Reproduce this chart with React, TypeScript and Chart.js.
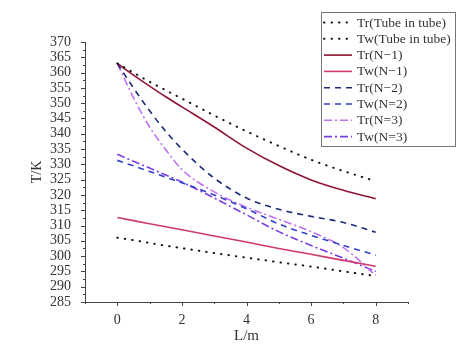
import React, { useEffect, useRef } from "react";
import { Chart, registerables } from "chart.js";

Chart.register(...registerables);

const L = [0, 0.5, 1, 1.5, 2, 3, 4, 5, 6, 7, 8];
const trTube = [363, 360, 357, 354.2, 351.5, 346, 340.8, 336, 331.5, 327.8, 324.5];
const twTube = [306, 305.2, 304.3, 303.4, 302.6, 301, 299.5, 298, 296.6, 295, 293.5];
const trN1 = [363, 359.2, 355.6, 352.1, 348.8, 342.2, 335.3, 329.6, 324.9, 321.5, 318.8];
const twN1 = [312.6, 311.6, 310.6, 309.6, 308.6, 306.6, 304.6, 302.5, 300.6, 298.6, 296.7];
const trN2 = [363, 355, 347.5, 340.8, 335, 325.5, 319, 315.3, 313, 311, 307.8];
const twN2 = [331.3, 329.5, 327.7, 325.8, 324, 320, 315.5, 310.5, 306.8, 303.5, 300.3];
const trN3 = [363, 351.8, 342.2, 334.8, 328.3, 321, 316, 312, 308, 302.8, 293.7];
const twN3 = [333.3, 331, 328.8, 326.5, 324.2, 319, 313.5, 308, 303.5, 299.3, 295];

const seriesLabels = [
  "Tr(Tube in tube)",
  "Tw(Tube in tube)",
  "Tr(N\u22121)",
  "Tw(N\u22121)",
  "Tr(N\u22122)",
  "Tw(N=2)",
  "Tr(N=3)",
  "Tw(N=3)",
];
const xTickLabels = [0, 2, 4, 6, 8];
const yMin = 285;
const yMax = 370;

const FONT = "'Liberation Serif', 'Times New Roman', serif";

const pts = (ys: number[]) => L.map((x, i) => ({ x, y: ys[i] }));

const styles = [
  { color: "#111111", dash: [0.5, 7], width: 2, cap: "round" },
  { color: "#111111", dash: [0.5, 7], width: 2, cap: "round" },
  { color: "#8e1533", dash: [], width: 1.6, cap: "butt" },
  { color: "#d03a6a", dash: [], width: 1.6, cap: "butt" },
  { color: "#1c2a78", dash: [6, 5], width: 1.6, cap: "butt" },
  { color: "#3040c8", dash: [6, 5], width: 1.6, cap: "butt" },
  { color: "#c070f0", dash: [8, 3, 2, 3], width: 1.6, cap: "butt" },
  { color: "#7a3ee0", dash: [8, 3, 2, 3], width: 1.6, cap: "butt" },
];

const allSeries = [trTube, twTube, trN1, twN1, trN2, twN2, trN3, twN3];

const ticksPlugin = {
  id: "customTicks",
  afterDraw(chart: any) {
    const ctx = chart.ctx;
    const xs = chart.scales.x;
    const ys = chart.scales.y;
    const area = chart.chartArea;
    ctx.save();
    ctx.strokeStyle = "#444";
    ctx.lineWidth = 1;
    for (let v = yMin; v <= yMax + 0.01; v += 2.5) {
      const py = Math.round(ys.getPixelForValue(v)) + 0.5;
      const major = Math.abs(v % 5) < 0.01;
      ctx.beginPath();
      ctx.moveTo(area.left, py);
      ctx.lineTo(area.left - (major ? 4 : 2), py);
      ctx.stroke();
    }
    for (let v = -1; v <= 9; v += 1) {
      const px = Math.round(xs.getPixelForValue(v)) + 0.5;
      const major = v % 2 === 0;
      ctx.beginPath();
      ctx.moveTo(px, area.bottom);
      ctx.lineTo(px, area.bottom + (major ? 4 : 2));
      ctx.stroke();
    }
    ctx.restore();
  },
};

const legendPlugin = {
  id: "boxLegend",
  afterDraw(chart: any) {
    const ctx = chart.ctx;
    const left = 321;
    const top = 12;
    const w = 134;
    const h = 134;
    const row = 16.3;
    ctx.save();
    ctx.fillStyle = "#ffffff";
    ctx.fillRect(left, top, w, h);
    ctx.strokeStyle = "#777";
    ctx.lineWidth = 1;
    ctx.strokeRect(left + 0.5, top + 0.5, w, h);
    ctx.font = `13.5px ${FONT}`;
    ctx.textBaseline = "middle";
    chart.data.datasets.forEach((ds: any, i: number) => {
      const y = top + 10.5 + i * row;
      ctx.beginPath();
      ctx.strokeStyle = ds.borderColor;
      ctx.lineWidth = ds.borderWidth;
      ctx.lineCap = ds.borderCapStyle;
      ctx.setLineDash(ds.borderDash);
      ctx.moveTo(left + 3, y);
      ctx.lineTo(left + 31, y);
      ctx.stroke();
      ctx.setLineDash([]);
      ctx.lineCap = "butt";
      ctx.fillStyle = "#333";
      ctx.fillText(ds.label, left + 36, y + 0.5);
    });
    ctx.restore();
  },
};

export default function App() {
  const ref = useRef<HTMLCanvasElement | null>(null);
  useEffect(() => {
    if (!ref.current) return;
    const chart = new Chart(ref.current, {
      type: "line",
      data: {
        datasets: allSeries.map((s, i) => ({
          label: seriesLabels[i],
          data: pts(s),
          borderColor: styles[i].color,
          backgroundColor: styles[i].color,
          borderDash: styles[i].dash,
          borderWidth: styles[i].width,
          borderCapStyle: styles[i].cap as any,
          pointRadius: 0,
          fill: false,
          cubicInterpolationMode: "monotone" as const,
        })),
      },
      options: {
        responsive: false,
        animation: false,
        layout: { padding: { top: 42, right: 66, left: 0, bottom: 0 } },
        plugins: { legend: { display: false }, tooltip: { enabled: false } },
        scales: {
          x: {
            type: "linear",
            min: -1,
            max: 9,
            afterFit: (s: any) => {
              s.height = 60;
            },
            afterBuildTicks: (s: any) => {
              s.ticks = xTickLabels.map((v) => ({ value: v }));
            },
            grid: { display: false },
            border: { display: true, color: "#444", width: 1 },
            ticks: {
              color: "#333",
              font: { family: FONT, size: 14 },
              padding: 2,
              maxRotation: 0,
              callback: (v: any) => String(v),
            },
            title: {
              display: true,
              text: "L/m",
              color: "#333",
              font: { family: FONT, size: 15 },
              padding: { top: 0, bottom: 17 },
            },
          },
          y: {
            type: "linear",
            min: yMin,
            max: yMax,
            afterFit: (s: any) => {
              s.width = 85;
            },
            grid: { display: false },
            border: { display: true, color: "#444", width: 1 },
            ticks: {
              stepSize: 5,
              color: "#333",
              font: { family: FONT, size: 14 },
              padding: 6,
              autoSkip: false,
            },
            title: {
              display: true,
              text: "T/K",
              color: "#333",
              font: { family: FONT, size: 14 },
              padding: { top: 29, bottom: 0 },
            },
          },
        },
      },
      plugins: [ticksPlugin, legendPlugin],
    });
    return () => chart.destroy();
  }, []);
  return (
    <div style={{ position: "absolute", left: 0, top: 0, width: 474, height: 362, background: "#fff" }}>
      <canvas ref={ref} width={474} height={362} style={{ width: 474, height: 362 }} />
    </div>
  );
}
